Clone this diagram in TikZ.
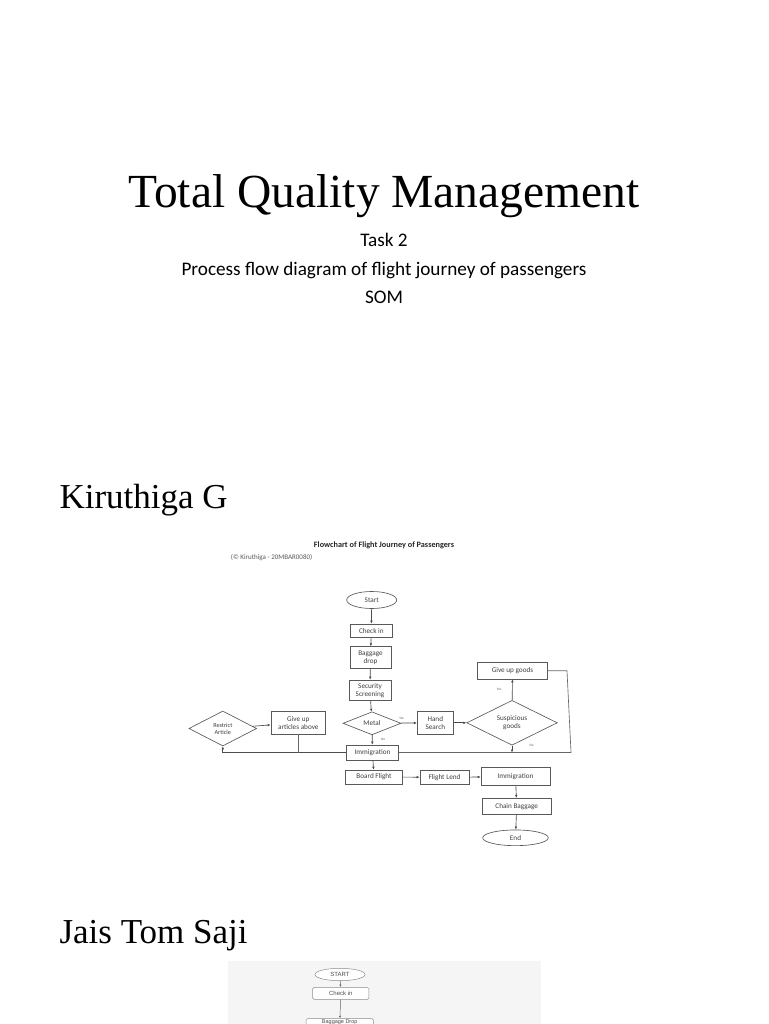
\documentclass[tikz,border=0pt]{standalone}
\usepackage{fontspec}
\setmainfont{Liberation Serif}
\newfontfamily\calib{Carlito}
\newfontfamily\arialfont{Liberation Sans}
\usetikzlibrary{arrows.meta,positioning,shapes.geometric}
\tikzset{
  flow/.style={draw=black!65, line width=0.65pt, fill=white, inner sep=0pt, align=center, text=black!75, font=\calib\fontsize{7.2}{8.2}\selectfont},
  procbox/.style={flow, rectangle},
  decide/.style={flow, diamond},
  term/.style={flow, ellipse},
  arr/.style={draw=black!70, line width=0.65pt, -{Latex[length=3pt,width=2.6pt]}},
  link/.style={draw=black!60, line width=0.65pt},
  lbl/.style={font=\calib\fontsize{3.5}{4}\selectfont, text=black!60, inner sep=0.5pt},
  shot/.style={draw=black!45, line width=0.5pt, fill=white, inner sep=0pt, text=black!70, font=\arialfont\fontsize{6}{7}\selectfont},
  arrtwo/.style={draw=black!60, line width=0.5pt, -{Latex[length=2.5pt,width=2.2pt]}},
  plain/.style={inner sep=0pt},
}

\begin{document}
\begin{tikzpicture}[x=1pt, y=-1pt]
		%%%%% PAGE %%%%%
		\useasboundingbox (0,0) rectangle (768,1024);
		\fill[white] (0,0) rectangle (768,1024);
		
		\node[plain, anchor=base, font=\fontsize{47.5}{57}\selectfont] (title) at (384,207.7) {Total Quality Management};
		\node[plain, anchor=base, font=\calib\fontsize{19.2}{23}\selectfont] (task) at (384,246.5) {Task 2};
		\node[plain, anchor=base, font=\calib\fontsize{19.2}{23}\selectfont] (purpose) at (384,275) {Process flow diagram of flight journey of passengers};
		\node[plain, anchor=base, font=\calib\fontsize{19.2}{23}\selectfont] (som) at (384,303.5) {SOM};
		
		\node[plain, anchor=base west, font=\fontsize{35}{42}\selectfont] (nameone) at (59.3,508.3) {Kiruthiga G};
		\node[plain, anchor=base west, font=\fontsize{35}{42}\selectfont] (nametwo) at (59.3,943) {Jais Tom Saji};
		
		%%%%% FIRST FLOWCHART %%%%%
		\node[font=\calib\bfseries\fontsize{8.2}{9}\selectfont, text=black!85] (fctitle) at (384,545.7) {Flowchart of Flight Journey of Passengers};
		\node[plain, anchor=west, font=\calib\fontsize{7}{8}\selectfont, text=black!65] (fcauthor) at (230.7,557.7) {(© Kiruthiga - 20MBAR0080)};
		
		\node[term, minimum width=50, minimum height=17] (start) at (371.7,600) {Start};
		\node[procbox, minimum width=42.7, minimum height=13.7] (checkin) at (371.3,630.8) {Check in};
		\node[procbox, minimum width=41, minimum height=21.6] (bagdrop) at (370.5,657.5) {Baggage\\drop};
		\node[procbox, minimum width=42, minimum height=20.7] (secscreen) at (370,690.3) {Security\\Screening};
		\node[decide, minimum width=58, minimum height=23] (metal) at (372,723.3) {Metal};
		\node[procbox, minimum width=36, minimum height=22.3] (handsearch) at (435.3,722.8) {Hand\\Search};
		\node[decide, minimum width=90.6, minimum height=39] (suspicious) at (512,722.8) {Suspicious\\goods};
		\node[procbox, minimum width=69.6, minimum height=16.3] (giveupgoods) at (512.5,670.8) {Give up goods};
		\node[decide, minimum width=67.7, minimum height=35, font=\calib\fontsize{6.2}{7.2}\selectfont] (restrict) at (222.8,728.5) {Restrict\\Article};
		\node[procbox, minimum width=54.7, minimum height=22.3] (giveuparticles) at (298.3,722.8) {Give up\\articles above};
		\node[procbox, minimum width=51.6, minimum height=15] (immigone) at (372.5,752.5) {Immigration};
		\node[procbox, minimum width=56.6, minimum height=14] (board) at (374,777) {Board Flight};
		\node[procbox, minimum width=49, minimum height=13.3] (lend) at (444.5,777.3) {Flight Lend};
		\node[procbox, minimum width=69, minimum height=18] (immigtwo) at (515.5,776.7) {Immigration};
		\node[procbox, minimum width=68.7, minimum height=16] (chain) at (516.7,806.3) {Chain Baggage};
		\node[term, minimum width=65.6, minimum height=15.7] (end) at (515.5,837.8) {End};
		
		\draw[arr] (start) -- (checkin);
		\draw[arr] (checkin) -- (bagdrop);
		\draw[arr] (bagdrop) -- (secscreen);
		\draw[arr] (secscreen) -- (metal);
		\draw[arr] (metal) -- node[lbl, pos=0.05, above=3pt] {Yes} (handsearch);
		\draw[arr] (metal) -- node[lbl, right=8pt] {No} (immigone);
		\draw[arr] (handsearch) -- (suspicious);
		\draw[arr] (suspicious) -- node[lbl, left=10pt] {Yes} (giveupgoods);
		
		\coordinate (rtop) at (567,670.8);
		\coordinate (rbot) at (571,752.5);
		\draw[link] (giveupgoods.east) -- (rtop) -- (rbot) -- (immigone.east);
		\draw[arr] (suspicious.south) -- (suspicious.south |- immigone.east);
		\node[lbl, right=17pt of suspicious.south] (noright) {No};
		
		\coordinate (lcorner) at (restrict.south |- immigone.west);
		\draw[arr] (immigone.west) -- (lcorner) -- (restrict.south);
		\draw[link] (giveuparticles.south) -- (giveuparticles.south |- immigone.west);
		\draw[arr] (restrict) -- (giveuparticles);
		
		\draw[arr] (immigone) -- (board);
		\draw[arr] (board) -- (lend);
		\draw[arr] (lend) -- (immigtwo);
		\draw[arr] (immigtwo) -- (chain);
		\draw[arr] (chain) -- (end);
		
		%%%%% SECOND FLOWCHART %%%%%
		\fill[black!4] (228,961) rectangle (541,1024);
		\begin{scope}
			\clip (228,961) rectangle (541,1024);
			\node[shot, ellipse, minimum width=50, minimum height=12.4] (starttwo) at (340,974.5) {START};
			\node[shot, rounded corners=1.5pt, minimum width=56.3, minimum height=12] (checkintwo) at (340.8,993.3) {Check in};
			\node[shot, rounded corners=1.5pt, anchor=north, minimum width=67.3, inner ysep=0.6pt, text height=4pt, text depth=8pt, font=\arialfont\fontsize{5.5}{6.5}\selectfont] (bagdroptwo) at (339.7,1018.3) {Baggage Drop};
			\draw[arrtwo] (starttwo) -- (checkintwo);
			\draw[arrtwo] (checkintwo) -- (bagdroptwo);
		\end{scope}
		
		%%%%% END %%%%%
	\end{tikzpicture}
\end{document}
